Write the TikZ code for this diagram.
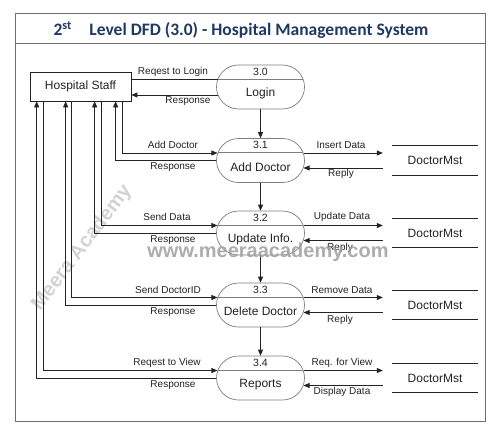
\documentclass[tikz,border=0pt]{standalone}
\usepackage{fontspec}
\setmainfont{Liberation Sans}
\newfontfamily\titlefont{Carlito}
\usetikzlibrary{arrows.meta,calc}
\definecolor{titleblue}{RGB}{31,56,100}
\definecolor{linegray}{RGB}{35,35,35}
\definecolor{framegray}{RGB}{110,110,110}
\definecolor{procgray}{RGB}{125,125,125}
\begin{document}
\begin{tikzpicture}[x=1pt,y=-1pt,
  lbl/.style={font=\fontsize{10}{12}\selectfont, inner sep=0pt, text=linegray},
  numtxt/.style={font=\fontsize{10.5}{12}\selectfont, inner sep=0pt, text=linegray},
  nametxt/.style={font=\fontsize{12}{14}\selectfont, inner sep=0pt, text=linegray},
  proc/.style={draw=procgray, line width=0.7pt, rounded corners=22pt,
    minimum width=88pt, minimum height=44pt, inner sep=0pt,
    path picture={\draw[procgray,line width=0.7pt]
      ([yshift=-14pt]path picture bounding box.north west) --
      ([yshift=-14pt]path picture bounding box.north east);}},
  store/.style={minimum width=86pt, minimum height=29pt, inner sep=0pt,
    font=\fontsize{12}{14}\selectfont, text=linegray},
  flow/.style={draw=linegray, line width=0.7pt},
  arr/.style={flow, -{Triangle[length=6pt,width=5pt]}},
  wm/.style={inner sep=0pt, font=\bfseries\fontsize{20}{24}\selectfont}
]
\useasboundingbox (0,0) rectangle (500,436);
\fill[white] (0,0) rectangle (500,436);

% frame and title
\draw[framegray, line width=1pt] (15,14) rectangle (485,421);
\draw[framegray, line width=1pt] (15,44) -- (485,44);
\node[font=\titlefont\bfseries\fontsize{17.5}{20}\selectfont, text=titleblue, inner sep=0pt] (title) at (241,30)
  {2\textsuperscript{st}\quad Level DFD (3.0) - Hospital Management System};

% watermark (behind)
\node[wm, text=gray!35, rotate=53] (wm2) at (82,248) {Meera Academy};

% external entity
\node[draw=linegray, line width=0.7pt, minimum width=101pt, minimum height=29pt, inner sep=0pt,
  font=\fontsize{12}{14}\selectfont, text=linegray] (staff) at (80.5,86.5) {Hospital Staff};

% processes
\node[proc] (p0) at (260.5,87) {};
\node[proc] (p1) at (260.5,160.5) {};
\node[proc] (p2) at (260.5,233) {};
\node[proc] (p3) at (260.5,305) {};
\node[proc] (p4) at (260.5,378) {};
\node[numtxt] (n0) at ($(p0.north)+(0,7)$) {3.0};
\node[numtxt] (n1) at ($(p1.north)+(0,7)$) {3.1};
\node[numtxt] (n2) at ($(p2.north)+(0,7)$) {3.2};
\node[numtxt] (n3) at ($(p3.north)+(0,7)$) {3.3};
\node[numtxt] (n4) at ($(p4.north)+(0,7)$) {3.4};
\node[nametxt] (t0) at ($(p0.north)+(0,29)$) {Login};
\node[nametxt] (t1) at ($(p1.north)+(0,29)$) {Add Doctor};
\node[nametxt] (t2) at ($(p2.north)+(0,29)$) {Update Info.};
\node[nametxt] (t3) at ($(p3.north)+(0,29)$) {Delete Doctor};
\node[nametxt] (t4) at ($(p4.north)+(0,29)$) {Reports};

% data stores
\foreach \i in {1,2,3,4}{
  \node[store] (s\i) at (435,0 |- p\i) {DoctorMst};
  \draw[flow] (s\i.north west) -- (s\i.north east);
  \draw[flow] (s\i.south west) -- (s\i.south east);
}

% vertical flows
\draw[arr] (p0.south) -- (p1.north);
\draw[arr] (p1.south) -- (p2.north);
\draw[arr] (p2.south) -- (p3.north);
\draw[arr] (p3.south) -- (p4.north);

% login
\draw[flow] ($(staff.east)+(0,-7.5)$) -- ($(p0.west)+(1.5,-8)$);
\draw[arr] ($(p0.west)+(1.5,8)$) -- ($(staff.east)+(0,8.5)$);

% staff <-> processes
\draw[arr] ($(staff.south west)+(93,0)$) |- ($(p1.west)+(1.3,-7.5)$);
\draw[arr] (p1.west) -| ($(staff.south west)+(86,0)$);
\draw[arr] ($(staff.south west)+(72,0)$) |- ($(p2.west)+(1.3,-7.5)$);
\draw[arr] (p2.west) -| ($(staff.south west)+(65,0)$);
\draw[arr] ($(staff.south west)+(42,0)$) |- ($(p3.west)+(1.3,-7.5)$);
\draw[arr] (p3.west) -| ($(staff.south west)+(36,0)$);
\draw[arr] ($(staff.south west)+(14,0)$) |- ($(p4.west)+(1.3,-7.5)$);
\draw[arr] (p4.west) -| ($(staff.south west)+(7,0)$);

% processes <-> stores
\foreach \i in {1,2,3,4}{
  \draw[arr] ($(p\i.east)+(-1.3,-7.5)$) -- ($(s\i.west)+(-9,-7.5)$);
  \draw[arr] ($(s\i.west)+(-9,7.5)$) -- ($(p\i.east)+(-1.3,7.5)$);
}

% labels left
\node[lbl] (l1) at (173,72) {Reqest to Login};
\node[lbl] (l2) at (188,101) {Response};
\node[lbl] (l3) at (173,145) {Add Doctor};
\node[lbl] (l4) at (173,167) {Response};
\node[lbl] (l5) at (167,217) {Send Data};
\node[lbl] (l6) at (173,240) {Response};
\node[lbl] (l7) at (168,290) {Send DoctorID};
\node[lbl] (l8) at (173,312) {Response};
\node[lbl] (l9) at (167,363) {Reqest to View};
\node[lbl] (l10) at (173,385) {Response};
% labels right
\node[lbl] (r1) at (341,145) {Insert Data};
\node[lbl] (r2) at (341,174) {Reply};
\node[lbl] (r3) at (342,217) {Update Data};
\node[lbl] (r4) at (340,248) {Reply};
\node[lbl] (r5) at (342,290) {Remove Data};
\node[lbl] (r6) at (340,320) {Reply};
\node[lbl] (r7) at (342,363) {Req. for View};
\node[lbl] (r8) at (342,392) {Display Data};

\node[wm, text=gray!75, opacity=0.85] (wm1) at (268,252) {www.meeraacademy.com};
\end{tikzpicture}
\end{document}
